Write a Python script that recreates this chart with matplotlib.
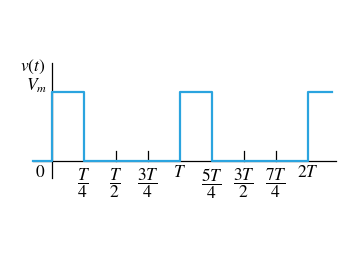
import matplotlib
matplotlib.use("Agg")
import matplotlib.pyplot as plt

plt.rcParams['mathtext.fontset'] = 'stix'
plt.rcParams['font.family'] = 'STIXGeneral'

# pulse train, time in units of T
edges = [-0.146, 0, 0.25, 1, 1.25, 2, 2.19]
levels = [0, 1, 0, 1, 0, 1, 1]

tick_pos = [0.5, 0.75, 1.5, 1.75]
frac_pos = [0.25, 0.5, 0.75, 1.25, 1.5, 1.75]
frac_labels = [r'$\dfrac{T}{4}$', r'$\dfrac{T}{2}$', r'$\dfrac{3T}{4}$',
               r'$\dfrac{5T}{4}$', r'$\dfrac{3T}{2}$', r'$\dfrac{7T}{4}$']
plain_pos = [1.0, 2.0]
plain_labels = [r'$T$', r'$2T$']

blue = '#2ba4df'

fig = plt.figure(figsize=(3.58, 2.8), dpi=100)
ax = fig.add_axes([0, 0, 1, 1])
ax.set_xlim(-0.404, 2.393)
ax.set_ylim(-1.732, 2.343)
ax.axis('off')

# axes
ax.plot([-0.146, 2.22], [0, 0], color='black', lw=0.9)
ax.plot([0, 0], [-0.247, 1.426], color='black', lw=0.9)
for t in tick_pos:
    ax.plot([t, t], [0, 0.146], color='black', lw=0.9)

ax.step(edges, levels, where='post', color=blue, lw=1.6, zorder=3)

fs = 12.5
for t, s in zip(frac_pos, frac_labels):
    ax.text(t, -0.33, s, ha='center', va='center', fontsize=fs)
for t, s in zip(plain_pos, plain_labels):
    ax.text(t, -0.175, s, ha='center', va='center', fontsize=fs)
ax.text(-0.09, -0.175, r'$0$', ha='center', va='center', fontsize=fs)
ax.text(-0.146, 1.368, r'$v(t)$', ha='center', va='center', fontsize=fs)
ax.text(-0.115, 1.09, r'$V_m$', ha='center', va='center', fontsize=fs)

fig.savefig('out.png', dpi=100)
